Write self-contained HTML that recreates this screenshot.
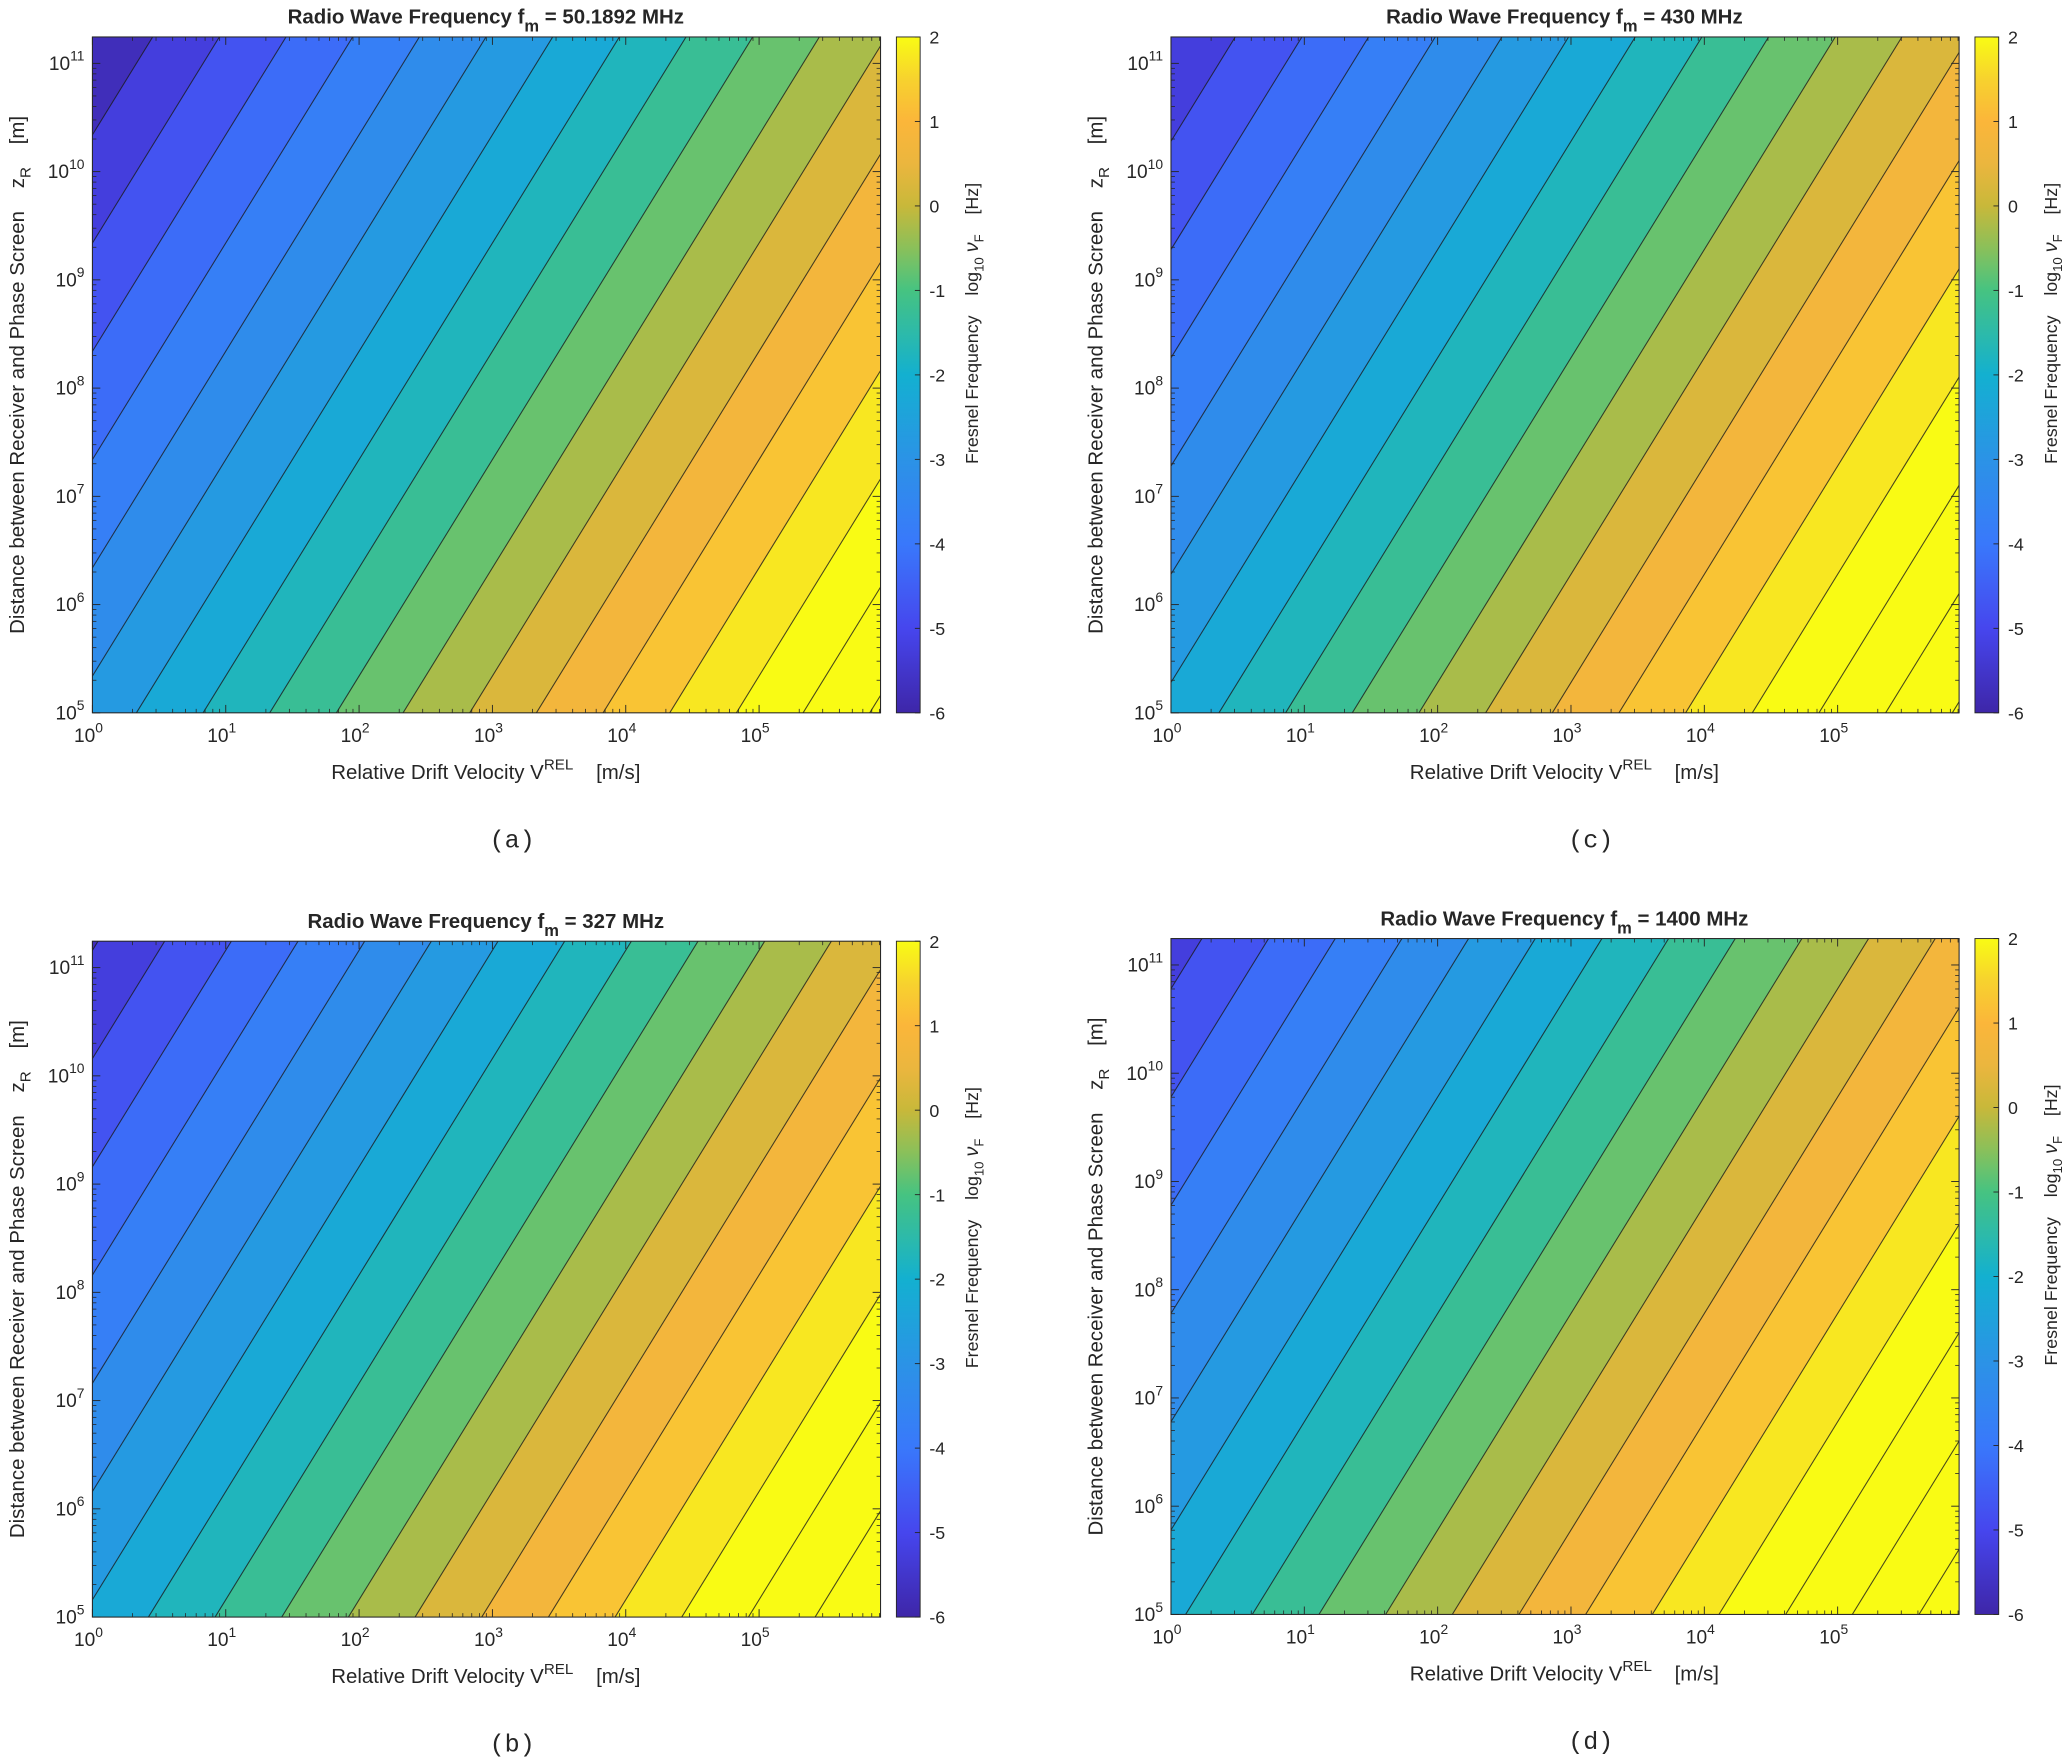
<!DOCTYPE html>
<html><head><meta charset="utf-8"><style>
html,body{margin:0;padding:0;background:#fff}
svg{display:block}
text{font-family:"Liberation Sans",sans-serif;fill:#262626}
</style></head><body>
<svg id="s" xmlns="http://www.w3.org/2000/svg" width="2070" height="1757" viewBox="0 0 1568 1331" preserveAspectRatio="none"></svg>
<script>
const S=document.getElementById('s');
const stops=[[-6,[62,38,168]],[-5,[70,70,238]],[-4,[57,120,251]],[-3,[43,147,230]],[-2,[19,176,208]],[-1,[70,195,129]],[-0.5,[138,192,90]],[0,[200,184,58]],[0.5,[235,182,62]],[1,[251,182,58]],[1.5,[247,210,46]],[2,[249,251,20]]];
function cmap(v){v=Math.max(-6,Math.min(2,v));for(let i=0;i<stops.length-1;i++){const a=stops[i],b=stops[i+1];if(v<=b[0]){const t=(v-a[0])/(b[0]-a[0]);return 'rgb('+a[1].map((c,j)=>Math.round(c+(b[1][j]-c)*t)).join(',')+')';}}return 'rgb(249,251,20)';}
let h='';let cid=0;
function panel(x0,y0,c,title,cap){
 const W=597,H=512,yb=y0+H,px=X=>x0+X*101,py=Y=>yb-(Y-5)*82,Yt=5+H/82;
 cid++;
 h+=`<defs><clipPath id="c${cid}"><rect x="${x0}" y="${y0}" width="${W}" height="${H}"/></clipPath><linearGradient id="g${cid}" x1="0" y1="1" x2="0" y2="0">`;
 for(let v=-6;v<=2.001;v+=0.25)h+=`<stop offset="${(v+6)/8}" stop-color="${cmap(v)}"/>`;
 h+=`</linearGradient></defs><g clip-path="url(#c${cid})"><rect x="${x0}" y="${y0}" width="${W}" height="${H}" fill="${cmap(-6)}"/>`;
 let lines='';
 for(let k=-7;k<=4;k+=0.5){
  const xa=px(k+0.5*5-c),xb=px(k+0.5*Yt-c);
  h+=`<polygon points="${xa},${yb} ${xb},${y0} ${x0+2000},${y0} ${x0+2000},${yb}" fill="${cmap(k+0.25)}"/>`;
  lines+=`<line x1="${xa}" y1="${yb}" x2="${xb}" y2="${y0}" stroke="#1a1a1a" stroke-width="0.8" stroke-opacity="0.8"/>`;
 }
 h+=lines+'</g>';
 h+=`<rect x="${x0}" y="${y0}" width="${W}" height="${H}" fill="none" stroke="#262626" stroke-width="0.8"/>`;
 for(let d=0;d<=5;d++){const x=px(d);h+=`<line x1="${x}" y1="${yb}" x2="${x}" y2="${yb-6}" stroke="#262626" stroke-width="0.7"/><line x1="${x}" y1="${y0}" x2="${x}" y2="${y0+6}" stroke="#262626" stroke-width="0.7"/><text x="${x-3}" y="${yb+22}" font-size="14.5" text-anchor="middle">10<tspan font-size="10.5" dy="-7">${d}</tspan></text>`;
  for(let m=2;m<10;m++){const xm=px(d+Math.log10(m));if(xm<x0+W)h+=`<line x1="${xm}" y1="${yb}" x2="${xm}" y2="${yb-3}" stroke="#262626" stroke-width="0.6"/><line x1="${xm}" y1="${y0}" x2="${xm}" y2="${y0+3}" stroke="#262626" stroke-width="0.6"/>`;}}
 for(let d=5;d<=11;d++){const y=py(d);h+=`<line x1="${x0}" y1="${y}" x2="${x0+6}" y2="${y}" stroke="#262626" stroke-width="0.7"/><line x1="${x0+W}" y1="${y}" x2="${x0+W-6}" y2="${y}" stroke="#262626" stroke-width="0.7"/><text x="${x0-6}" y="${y+5}" font-size="14.5" text-anchor="end">10<tspan font-size="10.5" dy="-7">${d}</tspan></text>`;
  for(let m=2;m<10;m++){const ym=py(d+Math.log10(m));if(ym>y0)h+=`<line x1="${x0}" y1="${ym}" x2="${x0+3}" y2="${ym}" stroke="#262626" stroke-width="0.6"/><line x1="${x0+W}" y1="${ym}" x2="${x0+W-3}" y2="${ym}" stroke="#262626" stroke-width="0.6"/>`;}}
 const cx=x0+609;
 h+=`<rect x="${cx}" y="${y0}" width="18" height="${H}" fill="url(#g${cid})" stroke="#262626" stroke-width="0.7"/>`;
 for(let v=-6;v<=2;v++){const y=yb-(v+6)*64;h+=`<line x1="${cx+14}" y1="${y}" x2="${cx+18}" y2="${y}" stroke="#262626" stroke-width="0.7"/><text x="${cx+25}" y="${y+5}" font-size="13.5">${v}</text>`;}
 h+=`<text transform="translate(${x0+671},${y0+217}) rotate(-90)" font-size="13.5" text-anchor="middle" xml:space="preserve">Fresnel Frequency    log<tspan font-size="10" dy="4">10</tspan><tspan dy="-4"> </tspan><tspan font-style="italic" font-size="15">ν</tspan><tspan font-size="10" dy="4">F</tspan><tspan dy="-4">    [Hz]</tspan></text>`;
 h+=`<text transform="translate(${x0-52},${y0+256}) rotate(-90)" font-size="15.5" text-anchor="middle" xml:space="preserve">Distance between Receiver and Phase Screen    z<tspan font-size="11.5" dy="5">R</tspan><tspan dy="-5">    [m]</tspan></text>`;
 h+=`<text x="${x0+298}" y="${yb+50}" font-size="15.5" text-anchor="middle" xml:space="preserve">Relative Drift Velocity V<tspan font-size="11.5" dy="-7">REL</tspan><tspan dy="7">    [m/s]</tspan></text>`;
 h+=`<text x="${x0+298}" y="${y0-10}" font-size="15.5" font-weight="bold" text-anchor="middle">Radio Wave Frequency f<tspan font-size="12.5" dy="6">m</tspan><tspan dy="-6"> = ${title}</tspan></text>`;
 h+=`<text x="${x0+318}" y="${yb+102}" font-size="19" text-anchor="middle" style="font-family:'Liberation Mono',monospace">${cap}</text>`;
}
panel(70,28,-0.33,'50.1892 MHz','(a)');
panel(887,28,0.14,'430 MHz','(c)');
panel(70,713,0.08,'327 MHz','(b)');
panel(887,711,0.39,'1400 MHz','(d)');
S.innerHTML=h;
</script>
</body></html>
